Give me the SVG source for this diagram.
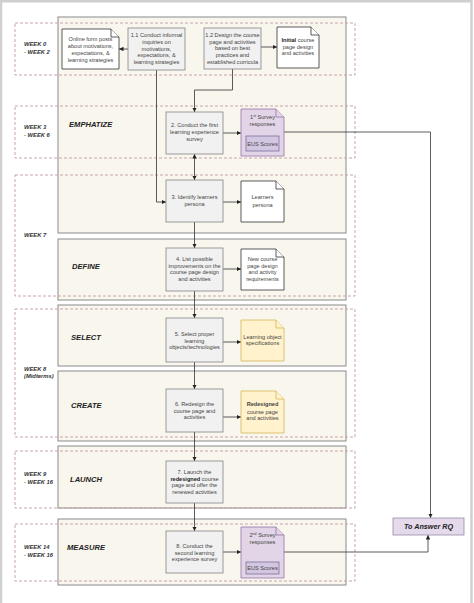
<svg xmlns="http://www.w3.org/2000/svg" width="474" height="603" viewBox="0 0 474 603">
<defs>
<style>
.phase{fill:#f9f6ee;stroke:#8a8a8a;stroke-width:1}
.week{fill:none;stroke:#c7a4ad;stroke-width:1;stroke-dasharray:3 2}
.proc{fill:#f1f1f1;stroke:#858585;stroke-width:0.8}
.doc{fill:#ffffff;stroke:#333333;stroke-width:0.8}
.docp{fill:#e1d5e7;stroke:#9673a6;stroke-width:0.8}
.docy{fill:#fff2cc;stroke:#d6b656;stroke-width:0.8}
.eus{fill:#d3c6e1;stroke:#7f6f9c;stroke-width:0.8}
.rq{fill:#e4daec;stroke:#9a8aab;stroke-width:0.8}
.t{font-family:"Liberation Sans",Arial,sans-serif;font-size:5.6px;fill:#444;text-anchor:middle}
.wk{font-family:"Liberation Sans",Arial,sans-serif;font-size:5.8px;font-weight:bold;font-style:italic;fill:#333}
.ph{font-family:"Liberation Sans",Arial,sans-serif;font-size:7.6px;font-weight:bold;font-style:italic;fill:#222}
.rqt{font-family:"Liberation Sans",Arial,sans-serif;font-size:7.2px;font-weight:bold;font-style:italic;fill:#222;text-anchor:middle}
.c{fill:none;stroke:#333;stroke-width:0.8}
</style>
<marker id="a" viewBox="0 0 6 6" markerWidth="4.5" markerHeight="4.5" refX="6" refY="3" orient="auto-start-reverse" markerUnits="userSpaceOnUse">
<path d="M0,0 L6,3 L0,6 Z" fill="#222"/>
</marker>
</defs>
<rect x="0" y="0" width="474" height="603" fill="#ffffff"/>
<path d="M1,603 V1.2 H471.5 V603" fill="none" stroke="#cfcfcf" stroke-width="2.5"/>

<g id="phases">
<rect class="phase" x="58" y="17" width="288" height="216"/>
<rect class="phase" x="58" y="239" width="288" height="61"/>
<rect class="phase" x="58" y="305" width="288" height="61"/>
<rect class="phase" x="58" y="371" width="288" height="70"/>
<rect class="phase" x="58" y="446" width="288" height="62"/>
<rect class="phase" x="58" y="519" width="288" height="66"/>
</g>

<g id="weeks">
<rect class="week" x="15" y="23" width="340" height="52"/>
<rect class="week" x="15" y="106" width="340" height="52"/>
<rect class="week" x="15" y="175" width="340" height="121"/>
<rect class="week" x="15" y="309" width="340" height="128"/>
<rect class="week" x="15" y="451" width="340" height="57"/>
<rect class="week" x="15" y="524" width="340" height="57"/>
<text class="wk" x="24" y="46">WEEK 0</text>
<text class="wk" x="24" y="54">- WEEK 2</text>
<text class="wk" x="24" y="129">WEEK 3</text>
<text class="wk" x="24" y="136.5">- WEEK 6</text>
<text class="wk" x="24" y="237">WEEK 7</text>
<text class="wk" x="24" y="371">WEEK 8</text>
<text class="wk" x="24" y="378">(Midterms)</text>
<text class="wk" x="24" y="476">WEEK 9</text>
<text class="wk" x="24" y="483.5">- WEEK 16</text>
<text class="wk" x="24" y="549">WEEK 14</text>
<text class="wk" x="24" y="557">- WEEK 16</text>
</g>

<g id="phase-labels">
<text class="ph" x="69" y="127">EMPHATIZE</text>
<text class="ph" x="72" y="269">DEFINE</text>
<text class="ph" x="71" y="340">SELECT</text>
<text class="ph" x="71" y="408">CREATE</text>
<text class="ph" x="70" y="482">LAUNCH</text>
<text class="ph" x="67" y="550">MEASURE</text>
</g>

<g id="connectors">
<path class="c" d="M128,49 H119" marker-end="url(#a)"/>
<path class="c" d="M261,47 H277" marker-end="url(#a)"/>
<path class="c" d="M232.5,69 V90 H194.5 V112" marker-end="url(#a)"/>
<path class="c" d="M156.5,70 V202 H166" marker-end="url(#a)"/>
<path class="c" d="M194.5,154 V180" marker-start="url(#a)" marker-end="url(#a)"/>
<path class="c" d="M194.5,222 V248" marker-end="url(#a)"/>
<path class="c" d="M194.5,291 V318" marker-end="url(#a)"/>
<path class="c" d="M194.5,362 V389" marker-end="url(#a)"/>
<path class="c" d="M194.5,432 V461" marker-end="url(#a)"/>
<path class="c" d="M194.5,503 V531" marker-end="url(#a)"/>
<path class="c" d="M223,133 H241" marker-end="url(#a)"/>
<path class="c" d="M223,202 H241" marker-end="url(#a)"/>
<path class="c" d="M223,269 H241" marker-end="url(#a)"/>
<path class="c" d="M223,342 H241" marker-end="url(#a)"/>
<path class="c" d="M223,417 H241" marker-end="url(#a)"/>
<path class="c" d="M223,552 H241" marker-end="url(#a)"/>
<path class="c" d="M284,132 H430.5 V518" marker-end="url(#a)"/>
<path class="c" d="M284,552 H428 V535" marker-end="url(#a)"/>
</g>

<g id="n-online">
<path class="doc" d="M62,29 H111 L119,37 V69 H62 Z"/>
<path class="doc" d="M111,29 V37 H119" fill="none"/>
<text class="t" x="90.5" y="40.5">Online form posts</text>
<text class="t" x="90.5" y="47.5">about motivations,</text>
<text class="t" x="90.5" y="54.5">expectations, &amp;</text>
<text class="t" x="90.5" y="61.5">learning strategies</text>
</g>

<g id="n-1-1">
<rect class="proc" x="128" y="28" width="57" height="42"/>
<text class="t" x="156.5" y="37">1.1 Conduct informal</text>
<text class="t" x="156.5" y="43.8">inquiries on</text>
<text class="t" x="156.5" y="50.5">motivations,</text>
<text class="t" x="156.5" y="57.3">expectations, &amp;</text>
<text class="t" x="156.5" y="64">learning strategies</text>
</g>

<g id="n-1-2">
<rect class="proc" x="204" y="28" width="57" height="41"/>
<text class="t" x="232.5" y="37">1.2 Design the course</text>
<text class="t" x="232.5" y="43.7">page and activities</text>
<text class="t" x="232.5" y="50.4">based on best</text>
<text class="t" x="232.5" y="57.1">practices and</text>
<text class="t" x="232.5" y="63.8">established curricula</text>
</g>

<g id="n-initial">
<path class="doc" d="M277,27 H311 L319,35 V68 H277 Z"/>
<path class="doc" d="M311,27 V35 H319" fill="none"/>
<text class="t" x="298" y="42"><tspan font-weight="bold" fill="#222">Initial</tspan> course</text>
<text class="t" x="298" y="48.7">page design</text>
<text class="t" x="298" y="55.4">and activities</text>
</g>

<g id="n-2">
<rect class="proc" x="166" y="112" width="57" height="42"/>
<text class="t" x="194.5" y="127">2. Conduct the first</text>
<text class="t" x="194.5" y="134">learning experience</text>
<text class="t" x="194.5" y="141">survey</text>
</g>

<g id="n-survey1">
<path class="docp" d="M241,109 H276 L284,117 V156 H241 Z"/>
<path class="docp" d="M276,109 V117 H284"/>
<text class="t" x="262.5" y="119">1<tspan font-size="3.6" dy="-2">st</tspan><tspan dy="2"> Survey</tspan></text>
<text class="t" x="262.5" y="126">responses</text>
<rect class="eus" x="246" y="136" width="33" height="15"/>
<text class="t" x="262.5" y="145.5">EUS Scores</text>
</g>

<g id="n-3">
<rect class="proc" x="166" y="180" width="57" height="42"/>
<text class="t" x="194.5" y="199">3. Identify learners</text>
<text class="t" x="194.5" y="206">persona</text>
</g>

<g id="n-persona">
<path class="doc" d="M241,181 H276 L284,189 V222 H241 Z"/>
<path class="doc" d="M276,181 V189 H284" fill="none"/>
<text class="t" x="262.5" y="199">Learners</text>
<text class="t" x="262.5" y="207">persona</text>
</g>

<g id="n-4">
<rect class="proc" x="166" y="248" width="57" height="43"/>
<text class="t" x="194.5" y="261">4. List possible</text>
<text class="t" x="194.5" y="267.7">improvements on the</text>
<text class="t" x="194.5" y="274.4">course page design</text>
<text class="t" x="194.5" y="281.1">and activities</text>
</g>

<g id="n-newreq">
<path class="doc" d="M241,249 H276 L284,257 V290 H241 Z"/>
<path class="doc" d="M276,249 V257 H284" fill="none"/>
<text class="t" x="262.5" y="261">New course</text>
<text class="t" x="262.5" y="267.6">page design</text>
<text class="t" x="262.5" y="274.2">and activity</text>
<text class="t" x="262.5" y="280.8">requirements</text>
</g>

<g id="n-5">
<rect class="proc" x="166" y="318" width="57" height="44"/>
<text class="t" x="194.5" y="336">5. Select proper</text>
<text class="t" x="194.5" y="342.5">learning</text>
<text class="t" x="194.5" y="349">objects/technologies</text>
</g>

<g id="n-lospec">
<path class="docy" d="M241,320 H276 L284,328 V361 H241 Z"/>
<path class="docy" d="M276,320 V328 H284"/>
<text class="t" x="262.5" y="338.5">Learning object</text>
<text class="t" x="262.5" y="345">specifications</text>
</g>

<g id="n-6">
<rect class="proc" x="166" y="389" width="57" height="43"/>
<text class="t" x="194.5" y="406">6. Redesign the</text>
<text class="t" x="194.5" y="412.5">course page and</text>
<text class="t" x="194.5" y="419">activities</text>
</g>

<g id="n-redesigned">
<path class="docy" d="M241,391 H276 L284,399 V433 H241 Z"/>
<path class="docy" d="M276,391 V399 H284"/>
<text class="t" x="262.5" y="406" font-weight="bold" fill="#222">Redesigned</text>
<text class="t" x="262.5" y="413.5">course page</text>
<text class="t" x="262.5" y="420">and activities</text>
</g>

<g id="n-7">
<rect class="proc" x="166" y="461" width="57" height="42"/>
<text class="t" x="194.5" y="474">7. Launch the</text>
<text class="t" x="194.5" y="480.7"><tspan font-weight="bold" fill="#222">redesigned</tspan> course</text>
<text class="t" x="194.5" y="487.4">page and offer the</text>
<text class="t" x="194.5" y="494.1">renewed activities</text>
</g>

<g id="n-8">
<rect class="proc" x="166" y="531" width="57" height="42"/>
<text class="t" x="194.5" y="548">8. Conduct the</text>
<text class="t" x="194.5" y="554.7">second learning</text>
<text class="t" x="194.5" y="561.4">experience survey</text>
</g>

<g id="n-survey2">
<path class="docp" d="M241,527 H276 L284,535 V578 H241 Z"/>
<path class="docp" d="M276,527 V535 H284"/>
<text class="t" x="262.5" y="537">2<tspan font-size="3.6" dy="-2">nd</tspan><tspan dy="2"> Survey</tspan></text>
<text class="t" x="262.5" y="544">responses</text>
<rect class="eus" x="246" y="562" width="33" height="12"/>
<text class="t" x="262.5" y="570">EUS Scores</text>
</g>

<g id="n-rq">
<rect class="rq" x="393" y="518" width="71" height="17"/>
<text class="rqt" x="428.5" y="529">To Answer RQ</text>
</g>
</svg>
